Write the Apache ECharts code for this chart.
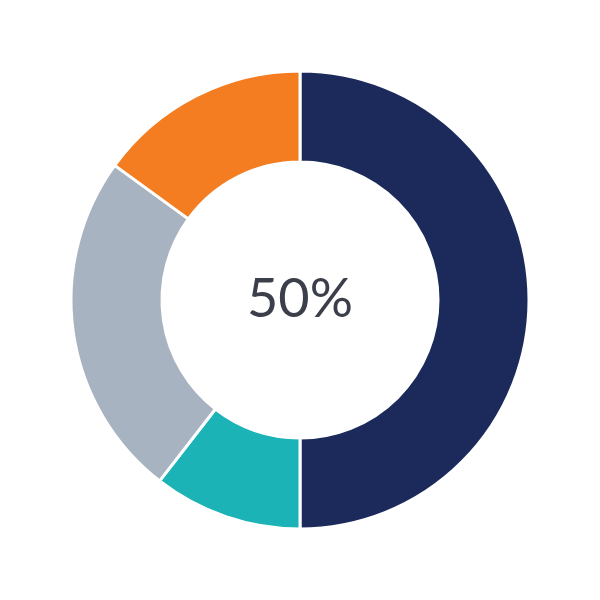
<!DOCTYPE html>
<html>
<head>
<meta charset="utf-8">
<style>
  html, body { margin: 0; padding: 0; background: #fff; }
  #main { width: 600px; height: 600px; }
</style>
<script src="https://cdn.jsdelivr.net/npm/echarts@6/dist/echarts.min.js"></script>
</head>
<body>
<div id="main"></div>
<script>
const names = ['A', 'B', 'C', 'D'];
const values = [50, 10.5, 24.5, 15];
const colors = ['#1b2a5a', '#1bb3b5', '#a8b3c1', '#f37d20'];
const centerLabel = '50%';

const chart = echarts.init(document.getElementById('main'), null, { renderer: 'canvas' });

const option = {
  animation: false,
  color: colors,
  title: {
    text: centerLabel,
    left: 'center',
    top: 'middle',
    textStyle: {
      fontFamily: 'Lato',
      fontSize: 54,
      fontWeight: 'normal',
      color: '#3a3f4a'
    }
  },
  series: [{
    type: 'pie',
    center: [300, 300],
    radius: [138, 229],
    startAngle: 90,
    clockwise: true,
    label: { show: false },
    labelLine: { show: false },
    itemStyle: { borderColor: '#fff', borderWidth: 3 },
    data: names.map((n, i) => ({ name: n, value: values[i] }))
  }]
};

chart.setOption(option);
</script>
</body>
</html>
